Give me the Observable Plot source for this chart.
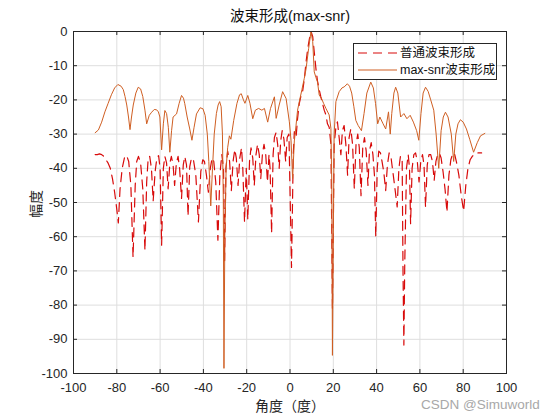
<!DOCTYPE html>
<html><head><meta charset="utf-8">
<script src="https://cdn.jsdelivr.net/npm/d3@7"></script>
<script src="https://cdn.jsdelivr.net/npm/@observablehq/plot@0.6"></script>
<style>
body{margin:0;background:#fff;}
#wrap{position:relative;width:560px;height:420px;font-family:"Liberation Sans","Noto Sans CJK SC",sans-serif;color:#262626;}
#wrap svg.plot{position:absolute;left:0;top:0;}
.ov{position:absolute;white-space:nowrap;}
</style></head>
<body><div id="wrap"></div>
<script>
const titleText = "波束形成(max-snr)";
const xLabel = "角度（度）";
const yLabel = "幅度";
const seriesNames = ["普通波束形成", "max-snr波束形成"];
const xTicks = [-100,-80,-60,-40,-20,0,20,40,60,80,100];
const yTicks = [0,-10,-20,-30,-40,-50,-60,-70,-80,-90,-100];

// 普通波束形成 (red dashed)
const convAngle = [-90,-89,-88,-87,-86,-85,-84,-83,-82,-81,-80,-79.3,-78.5,-77.5,-76.5,-75.5,-74.5,-73.5,-72.5,-71.5,-70.8,-70,-69,-68,-67,-66.2,-65.5,-64.8,-64,-63.2,-62.3,-61.5,-60.7,-60,-59.3,-58.5,-57.8,-57,-56.3,-55.5,-54.8,-54,-53.3,-52.5,-51.7,-51,-50.1,-49.3,-48.6,-47.8,-47.1,-46.3,-45.5,-44.6,-43.5,-42.3,-41.2,-40.3,-39.5,-38.6,-37.7,-36.8,-36,-35.2,-34.3,-33.3,-32.4,-31.5,-30.7,-30.2,-29.6,-28.8,-27.9,-27.1,-26.3,-25.5,-24.8,-24,-23.2,-22.4,-21.8,-21,-20.2,-19.5,-18.7,-18,-17.2,-16.5,-15.7,-15,-14.2,-13.5,-12.7,-12,-11.2,-10.4,-9.7,-9.2,-8.5,-7.8,-7.2,-6.4,-5.7,-5,-4.3,-3.6,-2.8,-2,-1.3,-0.5,0.7,1.5,2,2.8,3.5,4.3,5,5.8,6.6,7.4,8.2,9,9.7,10.5,11.2,12,12.7,13.5,14.2,15,15.8,16.6,17.3,18.1,18.9,19.6,20.4,21.2,21.9,22.7,23.5,24.2,25,25.8,26.6,27.3,28.1,28.9,29.7,30.5,31.3,32,32.8,33.6,34.4,35.2,36,36.7,37.5,38.3,39,39.6,40.3,41,41.8,42.5,43.3,44.2,45,45.8,46.6,47.5,48.5,49.5,50.3,51,51.8,52.2,52.6,53,53.8,54.6,55.2,55.7,56.4,57.2,58,58.8,59.6,60.4,61.2,61.9,62.6,63.4,64.2,65,65.8,66.6,67.4,68.2,69,69.8,70.7,71.6,72.5,73.4,74.3,75.2,76.1,77,78,79.1,80.2,81.2,82.2,83.2,84.2,85.2,86.3,87.5,88.5];
const convValue = [-36,-36,-35.8,-36,-36.5,-37.5,-38.5,-40,-43,-47,-52,-56,-46,-40,-37,-36.2,-38,-45,-66,-45,-38,-36.5,-38.5,-46,-64,-44,-37,-36.5,-40,-49.5,-41,-37,-36.3,-40,-62.5,-40,-36.5,-38.5,-46,-38.5,-36.5,-39,-45,-38.5,-36.5,-40,-48.8,-39,-36.5,-39,-54,-39.5,-37,-37.5,-42,-55.7,-41,-37.5,-38,-42,-47,-40,-37,-38,-44,-61,-42,-36,-40,-67,-40,-35,-38,-46.5,-38,-34.5,-37,-45,-37,-34,-40,-55.7,-40,-55,-38,-34,-37,-45,-36,-33,-36,-43,-35.5,-33,-36,-44,-36,-40,-59,-36,-31,-29.5,-33,-40,-32,-29,-31.5,-38,-31,-30,-69,-36,-29.3,-31,-25.4,-21,-19,-17.6,-14,-9,-5,-2,0,-1.5,-6,-11,-14.5,-17,-19,-21,-23,-24.4,-27,-28,-33,-81,-33,-28,-26.4,-31,-36,-29,-27.5,-33,-42,-31,-28.5,-33,-46,-33,-30,-34,-48,-34,-31,-35,-45,-35,-32.5,-36,-42,-60,-40,-35,-35.5,-38,-41,-46.5,-39,-35.5,-36.5,-41,-46,-51.3,-40,-36.5,-37,-70,-91.7,-68,-40,-36,-40,-56.2,-40,-36,-35.5,-38,-44,-38,-36,-39,-51.3,-39,-36,-36,-38,-43.5,-38,-36,-35.5,-37,-41,-46,-52.8,-42,-37.5,-35.5,-36,-38.5,-42,-48,-52.5,-45,-40,-37.5,-36.5,-36,-35.5,-35.5,-35.5];

// max-snr波束形成 (orange solid)
const snrAngle = [-90,-88.5,-87,-85.5,-84,-82.5,-81,-79.5,-78,-77,-76.2,-75.4,-74.6,-73.9,-73.2,-72.4,-71.2,-70.1,-69,-68,-67,-66.2,-65,-63.9,-62.7,-61.6,-60.8,-60.1,-59.3,-58.5,-57.8,-57,-56.2,-55.5,-54.7,-54,-52.4,-51.2,-50.1,-49.2,-48.6,-47.5,-46.3,-45.3,-44.3,-43.2,-41.5,-40.2,-39.2,-38.2,-37.5,-36.6,-35.8,-35,-34,-33.2,-32.5,-31.8,-31.2,-30.8,-30.5,-30.1,-29.5,-28.8,-28,-27.3,-26,-24.5,-23.3,-22.5,-21.5,-20.8,-19.5,-18.5,-17.2,-16,-14.5,-13,-11.8,-10.3,-9,-7.2,-6.4,-5,-3.4,-1.8,-0.3,0.5,1.2,2,2.8,3.5,4.3,5.5,6.6,7.4,8.6,9.7,10.5,11.2,12,12.7,13.5,14.5,15.5,16.6,18.1,18.9,19.3,19.6,20,20.4,21.2,22.7,24,25,26.5,27.5,28.5,29.5,30.4,31.5,33,34.2,35.5,37.3,38.5,39.5,40.5,41.5,43,44.2,45.5,46.3,47,48,48.8,49.8,51.1,52.6,54,55.5,57,58.5,59.5,60.5,61.5,62.6,63.8,65,66.4,67.5,68.7,69.8,70.8,71.8,73,74.5,75.6,76.6,77.6,78.7,80,81.5,83,84.8,86.5,88,90];
const snrValue = [-29.6,-28.8,-26.5,-23.5,-21,-18.5,-16.5,-15.5,-16,-17,-19,-21.5,-25,-28.7,-25,-21.5,-18,-16.3,-16.8,-19,-23,-27,-24.5,-23.6,-22.8,-22.9,-23.5,-25,-34.6,-27,-23.1,-24,-28,-35.3,-29,-25,-24.1,-21,-18.7,-19.5,-21.1,-25,-28.5,-31.8,-28,-24.1,-22.3,-22.6,-24.5,-30,-38,-51,-40,-30,-24,-21.5,-20.5,-22,-30,-50,-98.5,-60,-40,-34,-30.5,-31.5,-26,-21,-18.5,-18.2,-20,-21,-18.7,-21,-25.5,-23,-22.5,-23,-22.5,-26.5,-22.5,-19.1,-25.4,-21.5,-17.6,-19.6,-26.4,-32,-43,-32,-27.4,-23,-20.5,-17,-13.7,-11,-5,0,-3,-11.8,-13.5,-14.7,-18.6,-19.5,-21,-22.5,-24.4,-28.3,-45,-94.7,-60,-30,-20.5,-17.6,-16.5,-16.2,-15.3,-16,-18,-22,-26,-27.5,-29,-24,-18,-14.8,-16.5,-21,-27,-25,-27,-28.5,-23.5,-30,-24,-18,-16.3,-18,-25,-24,-25.5,-24.5,-26.5,-29,-31.8,-24,-18,-16.3,-17.5,-20,-23,-30,-40,-29,-25,-23.6,-25,-30,-38,-30,-27,-25.8,-26.5,-28.5,-31.5,-35.3,-32.5,-30.5,-29.8];

const conv = convAngle.map((a,i)=>({a, v: convValue[i]}));
const snr = snrAngle.map((a,i)=>({a, v: snrValue[i]}));

const RED = "#d80a0a", ORANGE = "#cf5e22", AX = "#262626";
const DASH = "9,6";
const tk = 4; // tick length px
const xPer = 200/(560-73-54), yPer = 100/(420-31-47);
const fmt = d => String(d);

const chart = Plot.plot({
  width: 560, height: 420,
  marginLeft: 73, marginRight: 54, marginTop: 31, marginBottom: 47,
  style: {fontFamily: "Liberation Sans, Noto Sans CJK SC, sans-serif", fontSize: "13px", color: AX, background: "white"},
  x: {domain: [-100, 100]},
  y: {domain: [-100, 0]},
  marks: [
    Plot.gridX(xTicks, {stroke: "#dedede", strokeOpacity: 1}),
    Plot.gridY(yTicks, {stroke: "#dedede", strokeOpacity: 1}),
    Plot.line(conv, {x: "a", y: "v", stroke: RED, strokeWidth: 1.2, strokeDasharray: DASH}),
    Plot.line(snr, {x: "a", y: "v", stroke: ORANGE, strokeWidth: 1}),
    Plot.frame({stroke: AX}),
    Plot.ruleX(xTicks, {x: d=>d, y1: -100, y2: -100 + tk*yPer, stroke: AX}),
    Plot.ruleX(xTicks, {x: d=>d, y1: 0, y2: -tk*yPer, stroke: AX}),
    Plot.ruleY(yTicks, {y: d=>d, x1: -100, x2: -100 + tk*xPer, stroke: AX}),
    Plot.ruleY(yTicks, {y: d=>d, x1: 100, x2: 100 - tk*xPer, stroke: AX}),
    Plot.axisX(xTicks, {tickSize: 0, tickPadding: 9, label: null, fontSize: 13, fill: AX, tickFormat: fmt}),
    Plot.axisY(yTicks, {tickSize: 0, tickPadding: 6, label: null, fontSize: 13, fill: AX, tickFormat: fmt})
  ]
});
chart.classList.add("plot");
const wrap = document.getElementById("wrap");
wrap.appendChild(chart);

function ov(html, css){ const d=document.createElement("div"); d.className="ov"; d.innerHTML=html; Object.assign(d.style, css); wrap.appendChild(d); return d; }
ov(titleText, {left:"290px", top:"7px", transform:"translateX(-50%)", fontSize:"14.5px", lineHeight:"18px", color:"#111"});
ov(xLabel, {left:"290px", top:"397px", transform:"translateX(-50%)", fontSize:"14px", lineHeight:"18px", color:AX});
ov(yLabel, {left:"36px", top:"204px", transform:"translate(-50%,-50%) rotate(-90deg)", fontSize:"14px", lineHeight:"18px", color:AX});
ov("CSDN @Simuworld", {left:"421px", top:"396px", fontSize:"13.5px", lineHeight:"18px", color:"#a8a8a8"});
ov(`<svg width="40" height="36" style="position:absolute;left:3px;top:0">
  <line x1="1" y1="9" x2="40" y2="9" stroke="${RED}" stroke-width="1.2" stroke-dasharray="${DASH}"/>
  <line x1="1" y1="26" x2="40" y2="26" stroke="${ORANGE}" stroke-width="1"/></svg>
  <div style="position:absolute;left:46px;top:1px;font-size:12.5px;line-height:16px">${seriesNames[0]}</div>
  <div style="position:absolute;left:46px;top:18px;font-size:12.5px;line-height:16px">${seriesNames[1]}</div>`,
  {left:"353px", top:"43px", width:"142px", height:"35px", border:"1px solid "+AX, background:"#fff", color:"#111"});
</script></body></html>
